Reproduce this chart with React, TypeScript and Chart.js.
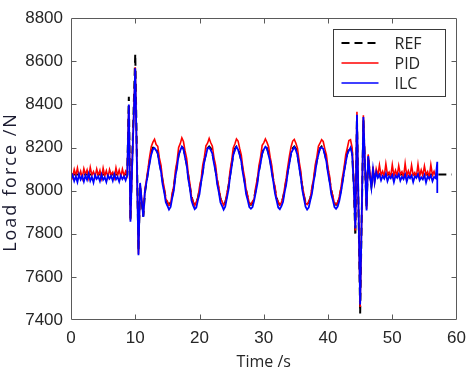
import { useEffect, useRef } from "react";
import { Chart, registerables } from "chart.js";

Chart.register(...registerables);

// ---- axes ----
const X_MIN = 0;
const X_MAX = 60;
const X_STEP = 10;
const Y_MIN = 7400;
const Y_MAX = 8800;
const Y_STEP = 200;
const SAMPLE_STEP = 0.25; // seconds between samples

const X_TITLE = "Time /s";
const Y_TITLE = "Load force /N";
const seriesLabels = ["REF", "PID", "ILC"];
const seriesColors = ["#000000", "#ff0000", "#0000ff"];

// ---- REF (set-point) ----
const refSteadyStart = [
  8075, 8075, 8075, 8075, 8075, 8075, 8075, 8075, 8075, 8075, 8075, 8075,
  8075, 8075, 8075, 8075, 8075, 8075, 8075, 8075, 8075, 8075, 8075, 8075,
  8075, 8075, 8075, 8075, 8075, 8075, 8075, 8075, 8075, 8075, 8075, 8075,
];
const refTransient1 = [
  8435, 7860, 8120, 8380, 8635, 8170, 7720, 8020, 7950, 7880, 7990, 8040, 8090, 8140, 8180, 8200,
];
const refSine = [
  8205, 8197, 8173, 8138, 8093, 8047, 8003, 7967, 7943, 7935,
  7945, 7975, 8018, 8070, 8122, 8165, 8195, 8205,
  8195, 8165, 8122, 8070, 8018, 7975, 7945, 7935,
  7943, 7967, 8003, 8047, 8093, 8138, 8173, 8197, 8205,
  8197, 8173, 8138, 8093, 8047, 8003, 7967, 7943, 7935,
  7945, 7975, 8018, 8070, 8122, 8165, 8195, 8205,
  8197, 8173, 8138, 8093, 8047, 8003, 7967, 7943, 7935,
  7943, 7967, 8003, 8047, 8093, 8138, 8173, 8197, 8205,
  8197, 8173, 8138, 8093, 8047, 8003, 7967, 7943, 7935,
  7943, 7967, 8003, 8047, 8093, 8138, 8173, 8197, 8205,
  8195, 8165, 8122, 8070, 8018, 7975, 7945, 7935,
  7943, 7967, 8003, 8047, 8093, 8138, 8173, 8197, 8205,
  8197, 8173, 8138, 8093, 8047, 8003, 7967, 7943, 7935,
  7943, 7967, 8003, 8047, 8093, 8138, 8173, 8197, 8205,
];
const refTransient2 = [
  8180, 8030, 7790, 8340, 7900, 7430, 7890, 8330, 8120, 7920, 8160, 8080, 8020, 8075, 8075, 8075,
];
const refSteadyEnd = [
  8075, 8075, 8075, 8075, 8075, 8075, 8075, 8075, 8075, 8075, 8075, 8075,
  8075, 8075, 8075, 8075, 8075, 8075, 8075, 8075, 8075, 8075, 8075, 8075,
  8075, 8075, 8075, 8075, 8075, 8075, 8075, 8075, 8075, 8075, 8075, 8075,
  8075, 8075, 8075, 8075, 8075, 8075, 8075, 8075, 8075, 8075, 8075,
];

// ---- PID ----
const pidSteadyStart = [
  8085, 8062, 8098, 8070, 8105, 8066, 8090, 8058, 8102, 8075, 8096, 8060,
  8108, 8072, 8088, 8064, 8100, 8070, 8094, 8058, 8104, 8068, 8092, 8062,
  8098, 8074, 8086, 8060, 8106, 8070, 8095, 8064, 8100, 8068, 8090, 8072,
];
const pidTransient1 = [
  8395, 7864, 8110, 8340, 8572, 8140, 7706, 8030, 7960, 7885, 8005, 8052, 8105, 8160, 8205, 8225,
];
const pidSine = [
  8238, 8214, 8206, 8152, 8118, 8052, 8016, 7962, 7950, 7932,
  7940, 7988, 8022, 8094, 8136, 8200, 8218, 8245,
  8228, 8184, 8150, 8078, 8034, 7972, 7950, 7930,
  7948, 7964, 8018, 8052, 8118, 8154, 8208, 8220, 8242,
  8222, 8206, 8152, 8118, 8052, 8016, 7964, 7950, 7932,
  7942, 7986, 8020, 8092, 8138, 8198, 8216, 8240,
  8230, 8196, 8166, 8104, 8064, 8004, 7976, 7940, 7936,
  7950, 7962, 8018, 8054, 8116, 8156, 8210, 8222, 8240,
  8224, 8204, 8154, 8116, 8050, 8018, 7962, 7948, 7934,
  7946, 7968, 8014, 8060, 8114, 8162, 8204, 8230, 8238,
  8220, 8196, 8136, 8092, 8022, 7984, 7942, 7936,
  7950, 7966, 8016, 8056, 8118, 8154, 8206, 8220, 8236,
  8228, 8194, 8166, 8104, 8066, 8002, 7976, 7940, 7938,
  7944, 7972, 8012, 8064, 8108, 8166, 8198, 8232, 8236,
];
const pidTransient2 = [
  8200, 8050, 7815, 8366, 7920, 7460, 7900, 8350, 8130, 7915, 8168, 8090, 8025, 8112, 8040, 8100,
];
const pidSteadyEnd = [
  8070, 8118, 8072, 8090, 8066, 8124, 8074, 8086, 8064, 8120, 8070, 8094,
  8068, 8116, 8076, 8088, 8062, 8126, 8070, 8092, 8066, 8118, 8072, 8084,
  8064, 8122, 8068, 8096, 8070, 8114, 8074, 8088, 8060, 8120, 8072, 8090, 8066,
];

// ---- ILC ----
const ilcSteadyStart = [
  8058, 8072, 8045, 8066, 8040, 8075, 8052, 8068, 8042, 8070, 8050, 8078,
  8046, 8064, 8038, 8072, 8055, 8066, 8044, 8074, 8050, 8062, 8040, 8070,
  8056, 8068, 8046, 8076, 8052, 8064, 8042, 8070, 8054, 8066, 8048, 8072,
];
const ilcTransient1 = [
  8400, 7856, 8100, 8330, 8568, 8130, 7700, 8036, 7955, 7878, 7995, 8040, 8085, 8130, 8168, 8192,
];
const ilcSine = [
  8198, 8186, 8174, 8124, 8090, 8030, 7994, 7946, 7930, 7912,
  7924, 7966, 8000, 8066, 8108, 8166, 8186, 8204,
  8194, 8154, 8120, 8054, 8012, 7954, 7932, 7914,
  7922, 7956, 7984, 8040, 8080, 8136, 8164, 8196, 8200,
  8188, 8172, 8126, 8090, 8030, 7994, 7946, 7930, 7912,
  7926, 7964, 8002, 8064, 8110, 8164, 8188, 8204,
  8190, 8166, 8136, 8080, 8040, 7984, 7956, 7924, 7916,
  7924, 7954, 7992, 8032, 8090, 8126, 8172, 8190, 8204,
  8196, 8164, 8134, 8082, 8038, 7986, 7954, 7922, 7914,
  7928, 7948, 7994, 8030, 8088, 8128, 8174, 8188, 8202,
  8188, 8164, 8110, 8064, 8002, 7964, 7926, 7912,
  7922, 7956, 7986, 8040, 8082, 8136, 8166, 8196, 8200,
  8194, 8166, 8134, 8080, 8040, 7984, 7956, 7924, 7916,
  7926, 7952, 7990, 8036, 8086, 8130, 8170, 8186, 8200,
];
const ilcTransient2 = [
  8170, 8030, 7825, 8352, 7910, 7472, 7895, 8342, 8120, 7908, 8160, 8075, 8015, 8100, 8038, 8085,
];
const ilcSteadyEnd = [
  8060, 8074, 8048, 8068, 8056, 8078, 8044, 8066, 8058, 8072, 8040, 8070,
  8060, 8076, 8046, 8064, 8054, 8074, 8042, 8068, 8058, 8070, 8040, 8066,
  8060, 8076, 8048, 8062, 8052, 8072, 8038, 8066, 8056, 8070, 8044, 8064, 8058, 8134,
];
// final vertical stroke of the ILC trace
const ilcEndTimes = [57.0];
const ilcEndValues = [7989];

const refValues = [...refSteadyStart, ...refTransient1, ...refSine, ...refTransient2, ...refSteadyEnd];
const pidValues = [...pidSteadyStart, ...pidTransient1, ...pidSine, ...pidTransient2, ...pidSteadyEnd];
const ilcValues = [...ilcSteadyStart, ...ilcTransient1, ...ilcSine, ...ilcTransient2, ...ilcSteadyEnd];

const toPoints = (values: number[]) => values.map((y, i) => ({ x: i * SAMPLE_STEP, y }));

const TICK_FONT = '"Liberation Sans", Arial, sans-serif';
const TITLE_FONT = '"Open Sans", "Liberation Sans", sans-serif';
const TEXT_COLOR = "#262626";
const FRAME_COLOR = "#5a5a5a";

const decorPlugin = {
  id: "decor",
  afterDraw(chart: any) {
    const { ctx, chartArea: a, scales } = chart;
    const L = Math.round(a.left) + 0.5;
    const R = Math.round(a.right) - 0.5;
    const T = Math.round(a.top) + 0.5;
    const B = Math.round(a.bottom) - 0.5;
    ctx.save();
    // frame
    ctx.strokeStyle = FRAME_COLOR;
    ctx.lineWidth = 1;
    ctx.setLineDash([]);
    ctx.beginPath();
    ctx.rect(L, T, R - L, B - T);
    ctx.stroke();
    // inward ticks on all four sides
    ctx.beginPath();
    scales.x.ticks.forEach((t: any) => {
      if (t.value <= X_MIN || t.value >= X_MAX) return;
      const px = Math.round(scales.x.getPixelForValue(t.value)) + 0.5;
      ctx.moveTo(px, B);
      ctx.lineTo(px, B - 5);
      ctx.moveTo(px, T);
      ctx.lineTo(px, T + 5);
    });
    scales.y.ticks.forEach((t: any) => {
      if (t.value <= Y_MIN || t.value >= Y_MAX) return;
      const py = Math.round(scales.y.getPixelForValue(t.value)) + 0.5;
      ctx.moveTo(L, py);
      ctx.lineTo(L + 5, py);
      ctx.moveTo(R, py);
      ctx.lineTo(R - 5, py);
    });
    ctx.stroke();

    // y-axis title
    ctx.save();
    ctx.translate(11, 182);
    ctx.rotate(-Math.PI / 2);
    ctx.font = `18px ${TITLE_FONT}`;
    (ctx as any).letterSpacing = "2px";
    ctx.fillStyle = "#1a1a30";
    ctx.textAlign = "center";
    ctx.textBaseline = "middle";
    ctx.fillText(Y_TITLE, 0, 0);
    ctx.restore();

    // legend inside the plot
    const bx = Math.round(a.right) - 124 + 0.5;
    const by = Math.round(a.top) + 11 + 0.5;
    const bw = 112;
    const bh = 67;
    ctx.fillStyle = "#ffffff";
    ctx.fillRect(bx, by, bw, bh);
    ctx.strokeStyle = "#3a3a3a";
    ctx.lineWidth = 1;
    ctx.strokeRect(bx, by, bw, bh);
    ctx.font = `16px ${TITLE_FONT}`;
    ctx.textAlign = "left";
    ctx.textBaseline = "middle";
    seriesLabels.forEach((label, k) => {
      const y = Math.round(by + 13 + 20 * k);
      ctx.beginPath();
      ctx.strokeStyle = seriesColors[k];
      ctx.lineWidth = k === 0 ? 2 : 1.6;
      ctx.setLineDash(k === 0 ? [8, 5] : []);
      ctx.moveTo(bx + 8, y);
      ctx.lineTo(bx + 45, y);
      ctx.stroke();
      ctx.fillStyle = TEXT_COLOR;
      ctx.fillText(label, bx + 61, y + 1);
    });
    ctx.restore();
  },
};

const plainTick = (v: any) => String(v);

export default function App() {
  const canvasRef = useRef<HTMLCanvasElement | null>(null);

  useEffect(() => {
    if (!canvasRef.current) return;
    const ilcPoints = [
      ...toPoints(ilcValues),
      ...ilcEndTimes.map((x, k) => ({ x, y: ilcEndValues[k] })),
    ];
    const chart = new Chart(canvasRef.current, {
      type: "line",
      data: {
        datasets: [
          {
            label: seriesLabels[0],
            data: toPoints(refValues),
            borderColor: seriesColors[0],
            borderWidth: 2,
            borderDash: [8, 5],
            pointRadius: 0,
            tension: 0,
            order: 3,
          },
          {
            label: seriesLabels[1],
            data: toPoints(pidValues),
            borderColor: seriesColors[1],
            borderWidth: 1.6,
            pointRadius: 0,
            tension: 0,
            order: 2,
          },
          {
            label: seriesLabels[2],
            data: ilcPoints,
            borderColor: seriesColors[2],
            borderWidth: 1.8,
            pointRadius: 0,
            tension: 0,
            order: 1,
          },
        ],
      },
      options: {
        responsive: false,
        animation: false,
        layout: { padding: { top: 18, right: 13, left: 0, bottom: 0 } },
        plugins: {
          legend: { display: false },
          tooltip: { enabled: false },
        },
        scales: {
          x: {
            type: "linear",
            min: X_MIN,
            max: X_MAX,
            grid: { display: false, drawTicks: false },
            border: { display: false },
            ticks: {
              stepSize: X_STEP,
              autoSkip: false,
              maxRotation: 0,
              padding: 8,
              color: TEXT_COLOR,
              font: { family: TICK_FONT, size: 17 },
              callback: plainTick,
            },
            title: {
              display: true,
              text: X_TITLE,
              color: TEXT_COLOR,
              font: { family: TITLE_FONT, size: 16 },
              padding: { top: 0, bottom: 0 },
            },
            afterFit: (s: any) => {
              s.height = 52;
            },
          },
          y: {
            type: "linear",
            min: Y_MIN,
            max: Y_MAX,
            grid: { display: false, drawTicks: false },
            border: { display: false },
            ticks: {
              stepSize: Y_STEP,
              autoSkip: false,
              padding: 8,
              color: TEXT_COLOR,
              font: { family: TICK_FONT, size: 17 },
              callback: plainTick,
            },
            afterFit: (s: any) => {
              s.width = 71;
            },
          },
        },
      },
      plugins: [decorPlugin],
    });
    return () => chart.destroy();
  }, []);

  return (
    <div style={{ position: "absolute", left: 0, top: 0, width: 474, height: 372, background: "#fff" }}>
      <canvas ref={canvasRef} width={474} height={372} style={{ display: "block" }} />
    </div>
  );
}
